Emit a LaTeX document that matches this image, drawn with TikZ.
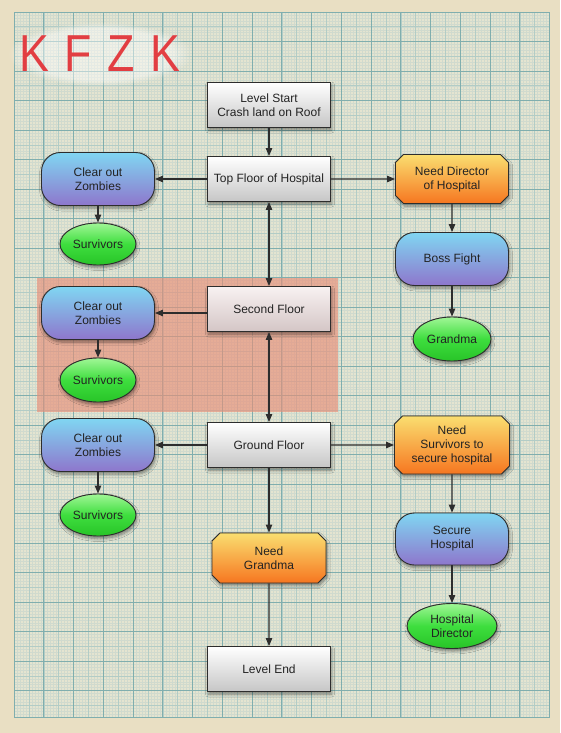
\documentclass[tikz,border=0pt]{standalone}
\usepackage{fontspec}
\setmainfont{Liberation Sans}
\usetikzlibrary{shapes.geometric,shapes.misc,arrows.meta,shadows.blur,fadings}

\definecolor{paper}{RGB}{233,223,195}
\definecolor{gridbg}{RGB}{228,228,208}
\definecolor{gminor}{RGB}{208,218,206}
\definecolor{gmid}{RGB}{178,204,198}
\definecolor{gmajor}{RGB}{128,174,174}
\definecolor{edgec}{RGB}{45,45,45}
\definecolor{txt}{RGB}{35,35,35}
\definecolor{hilite}{RGB}{232,142,120}
\definecolor{kred}{RGB}{226,62,66}
\definecolor{btop}{RGB}{128,214,242}
\definecolor{bbot}{RGB}{142,118,204}
\definecolor{otop}{RGB}{250,222,112}
\definecolor{obot}{RGB}{246,118,32}
\definecolor{gtop}{RGB}{160,246,150}
\definecolor{gmidc}{RGB}{62,222,62}
\definecolor{gbot}{RGB}{40,196,40}
\definecolor{rbot}{RGB}{198,198,198}
\definecolor{ptop}{RGB}{248,241,241}
\definecolor{pbot}{RGB}{212,198,198}

\begin{document}
\begin{tikzpicture}[x=1pt,y=-1pt,
  base/.style={draw=edgec, line width=0.9pt, text=txt,
    font=\fontsize{12}{14}\selectfont, align=center, inner sep=0pt,
    blur shadow={shadow xshift=1pt, shadow yshift=-2.5pt,
      shadow blur steps=6, shadow opacity=45, shadow blur radius=3pt}},
  rectbox/.style={base, rectangle, minimum width=123pt, minimum height=45pt,
    top color=white, bottom color=rbot},
  pillbox/.style={base, rectangle, rounded corners=19pt, minimum width=113pt,
    minimum height=53pt, top color=btop, bottom color=bbot},
  cutbox/.style={base, chamfered rectangle, chamfered rectangle xsep=4.5pt,
    minimum width=113pt, minimum height=49pt, top color=otop, bottom color=obot},
  ovalbox/.style={base, ellipse, minimum width=76pt, minimum height=42pt,
    top color=gtop, bottom color=gbot, middle color=gmidc},
  arr/.style={draw=edgec, line width=1.1pt, -{Triangle[length=8pt,width=6.5pt]}},
  dblarr/.style={draw=edgec, line width=1.1pt,
    {Triangle[length=8pt,width=6.5pt]}-{Triangle[length=8pt,width=6.5pt]}}
]
\useasboundingbox (0,0) rectangle (560,733);
% paper and grid
\fill[paper] (0,0) rectangle (560,733);
\fill[gridbg] (14,12) rectangle (549,717);
\foreach \i in {1,...,179} \draw[gminor, line width=0.3pt] ({14+\i*2.975},12) -- ({14+\i*2.975},717);
\foreach \j in {1,...,238} \draw[gminor, line width=0.3pt] (14,{12+\j*2.95}) -- (549,{12+\j*2.95});
\foreach \i in {1,...,35} \draw[gmid, line width=0.5pt] ({14+\i*14.875},12) -- ({14+\i*14.875},717);
\foreach \j in {1,...,47} \draw[gmid, line width=0.5pt] (14,{12+\j*14.75}) -- (549,{12+\j*14.75});
\foreach \i in {1,...,17} \draw[gmajor, line width=0.8pt] ({14+\i*29.75},12) -- ({14+\i*29.75},717);
\foreach \j in {1,...,23} \draw[gmajor, line width=0.8pt] (14,{12+\j*29.5}) -- (549,{12+\j*29.5});
\draw[gmajor, line width=0.8pt] (14,12) rectangle (549,717);

% title with soft glow
\fill[white, opacity=0.45, path fading=circle with fuzzy edge 20 percent] (8,22) rectangle (192,86);
\node[anchor=base west, inner sep=0pt, text=kred] (title) at (19,72)
  {\scalebox{0.86}[1]{\fontsize{52}{52}\selectfont K\hspace{18pt}F\hspace{18pt}Z\hspace{18pt}K}};

% highlighted second floor region
\fill[hilite, opacity=0.65] (37,278) rectangle (338,412);

% central column
\node[rectbox] (start) at (269,105) {Level Start\\Crash land on Roof};
\node[rectbox] (top) at (269,179) {Top Floor of Hospital};
\node[rectbox, top color=ptop, bottom color=pbot] (second) at (269,309) {Second Floor};
\node[rectbox] (ground) at (269,445) {Ground Floor};
\node[cutbox, minimum width=114pt, minimum height=50pt] (needgma) at (269,558) {Need\\Grandma};
\node[rectbox] (lend) at (269,669) {Level End};

% left column
\node[pillbox] (clr1) at (98,179) {Clear out\\Zombies};
\node[ovalbox] (sur1) at (98,244) {Survivors};
\node[pillbox] (clr2) at (98,313) {Clear out\\Zombies};
\node[ovalbox, minimum height=44pt] (sur2) at (98,380) {Survivors};
\node[pillbox] (clr3) at (98,445) {Clear out\\Zombies};
\node[ovalbox] (sur3) at (98,515) {Survivors};

% right column
\node[cutbox] (dir) at (452,179) {Need Director\\of Hospital};
\node[pillbox] (boss) at (452,259) {Boss Fight};
\node[ovalbox, minimum width=78pt, minimum height=44pt] (gma) at (452,339) {Grandma};
\node[cutbox, minimum width=115pt, minimum height=58pt] (needsurv) at (452,445) {Need\\Survivors to\\secure hospital};
\node[pillbox, minimum height=52pt] (secure) at (452,539) {Secure\\Hospital};
\node[ovalbox, minimum width=90pt, minimum height=45pt] (hdir) at (452,626) {Hospital\\Director};

% connectors
\draw[arr] (start) -- (top);
\draw[arr] (top) -- (clr1);
\draw[arr] (top) -- (dir);
\draw[arr] (clr1) -- (sur1);
\draw[arr] (dir) -- (boss);
\draw[arr] (boss) -- (gma);
\draw[dblarr] (top) -- (second);
\draw[arr] (second.west |- clr2.east) -- (clr2.east);
\draw[arr] (clr2) -- (sur2);
\draw[dblarr] (second) -- (ground);
\draw[arr] (ground) -- (clr3);
\draw[arr] (clr3) -- (sur3);
\draw[arr] (ground) -- (needsurv);
\draw[arr] (needsurv) -- (secure);
\draw[arr] (secure) -- (hdir);
\draw[arr] (ground) -- (needgma);
\draw[arr] (needgma) -- (lend);
\end{tikzpicture}
\end{document}
